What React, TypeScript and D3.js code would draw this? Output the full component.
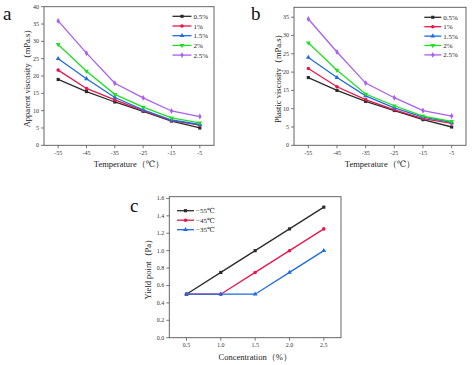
import React from 'react'
import * as d3 from 'd3'

// temperature panels (a, b)
const temperatures = [-55, -45, -35, -25, -15, -5]
const concentrationLabels = ['0.5%', '1%', '1.5%', '2%', '2.5%']

const apparent05 = [19, 15.5, 12.5, 9.8, 7, 5]
const apparent10 = [21.7, 16.4, 13.1, 10, 7.1, 5.8]
const apparent15 = [25, 19.2, 13.8, 10.2, 7.3, 6]
const apparent20 = [29.1, 21.4, 14.7, 11, 7.9, 6.5]
const apparent25 = [35.9, 26.6, 17.9, 13.7, 9.9, 8.3]

const plastic05 = [18.5, 15, 12, 9.5, 7, 5]
const plastic10 = [21, 16, 12.5, 9.7, 7.3, 6]
const plastic15 = [24, 18.5, 13.5, 10.2, 7.7, 6.3]
const plastic20 = [28, 20.5, 14, 10.8, 8, 6.5]
const plastic25 = [34.5, 25.5, 17, 13, 9.5, 8]

// yield point panel (c)
const concentrations = [0.5, 1.0, 1.5, 2.0, 2.5]
const yieldLabels = ['\u221255\u2103', '\u221245\u2103', '\u221235\u2103']
const yield55 = [0.5, 0.75, 1.0, 1.25, 1.5]
const yield45 = [0.5, 0.5, 0.75, 1.0, 1.25]
const yield35 = [0.5, 0.5, 0.5, 0.75, 1.0]

const tempTicks = [-55, -45, -35, -25, -15, -5]
const apparentTicks = [0, 5, 10, 15, 20, 25, 30, 35, 40]
const plasticTicks = [0, 5, 10, 15, 20, 25, 30, 35]
const concTicks = [0.5, 1.0, 1.5, 2.0, 2.5]
const yieldTicks = [0, 0.2, 0.4, 0.6, 0.8, 1.0, 1.2, 1.4, 1.6]

const colors = ['#2b2b2b', '#e8174a', '#1f6be0', '#22dd22', '#a95ff0']
const symbols = [d3.symbolSquare, d3.symbolCircle, d3.symbolTriangle, d3.symbolTriangle, d3.symbolDiamond]
const rotations = [0, 0, 0, 180, 0]

const FONT = '"Liberation Serif", "DejaVu Serif", serif'

type Series = { label: string; xs: number[]; ys: number[] }

type PanelProps = {
  letter: string
  letterX: number
  letterY: number
  xDomain: [number, number]
  xRange: [number, number]
  yDomain: [number, number]
  yRange: [number, number]
  xTicks: number[]
  yTicks: number[]
  xFmt: (v: number) => string
  yFmt: (v: number) => string
  xTitle: string
  yTitle: string
  yTitleX: number
  xTitleY: number
  series: Series[]
  legend: { x: number; y: number; len: number; step: number }
}

function Panel(p: PanelProps) {
  const x = d3.scaleLinear().domain(p.xDomain).range(p.xRange)
  const y = d3.scaleLinear().domain(p.yDomain).range(p.yRange)
  const [x0, x1] = p.xRange
  const [y0, y1] = p.yRange
  const top = Math.min(y0, y1)
  const bottom = Math.max(y0, y1)
  const line = d3.line<[number, number]>().x(d => x(d[0])).y(d => y(d[1]))
  const sym = (i: number) => d3.symbol().type(symbols[i]).size(10)()

  return (
    <g fontFamily={FONT}>
      <text x={p.letterX} y={p.letterY} fontSize={19} fill="#111">{p.letter}</text>
      <rect x={x0} y={top} width={x1 - x0} height={bottom - top} fill="none" stroke="#555" strokeWidth={0.9} />
      {p.xTicks.map(t => (
        <g key={'x' + t}>
          <line x1={x(t)} x2={x(t)} y1={bottom} y2={bottom + 3} stroke="#555" strokeWidth={0.8} />
          <text x={x(t)} y={bottom + 9.5} fontSize={6} textAnchor="middle" fill="#333">{p.xFmt(t)}</text>
        </g>
      ))}
      {p.yTicks.map(t => (
        <g key={'y' + t}>
          <line x1={x0 - 3} x2={x0} y1={y(t)} y2={y(t)} stroke="#555" strokeWidth={0.8} />
          <text x={x0 - 5} y={y(t) + 2} fontSize={6} textAnchor="end" fill="#333">{p.yFmt(t)}</text>
        </g>
      ))}
      <text x={(x0 + x1) / 2} y={p.xTitleY} fontSize={8.5} textAnchor="middle" fill="#222">{p.xTitle}</text>
      <text transform={`translate(${p.yTitleX},${(top + bottom) / 2}) rotate(-90)`} fontSize={8.5} textAnchor="middle" fill="#222">{p.yTitle}</text>
      {p.series.map((s, i) => {
        const pts = s.xs.map((v, j) => [v, s.ys[j]] as [number, number])
        return (
          <g key={s.label}>
            <path d={line(pts) || ''} fill="none" stroke={colors[i]} strokeWidth={1.3} />
            {pts.map((d, j) => (
              <path key={j} d={sym(i) || ''} transform={`translate(${x(d[0])},${y(d[1])}) rotate(${rotations[i]})`} fill={colors[i]} />
            ))}
          </g>
        )
      })}
      {p.series.map((s, i) => {
        const ly = p.legend.y + i * p.legend.step
        return (
          <g key={'lg' + s.label}>
            <line x1={p.legend.x} x2={p.legend.x + p.legend.len} y1={ly} y2={ly} stroke={colors[i]} strokeWidth={1.3} />
            <path d={sym(i) || ''} transform={`translate(${p.legend.x + p.legend.len / 2},${ly}) rotate(${rotations[i]})`} fill={colors[i]} />
            <text x={p.legend.x + p.legend.len + 2} y={ly + 2.5} fontSize={7} fill="#222">{s.label}</text>
          </g>
        )
      })}
    </g>
  )
}

export default function App() {
  const apparent = [apparent05, apparent10, apparent15, apparent20, apparent25]
  const plastic = [plastic05, plastic10, plastic15, plastic20, plastic25]
  const yields = [yield55, yield45, yield35]

  return (
    <svg width={474} height={365} style={{ position: 'absolute', left: 0, top: 0, background: '#fff' }}>
      <Panel
        letter="a" letterX={3} letterY={20}
        xDomain={[-60, 0]} xRange={[44, 214]}
        yDomain={[0, 40]} yRange={[145.3, 6.7]}
        xTicks={tempTicks} yTicks={apparentTicks}
        xFmt={v => String(v)} yFmt={v => String(v)}
        xTitle={'Temperature\uff08\u2103\uff09'} yTitle={'Apparent viscosity\uff08mPa.s\uff09'}
        yTitleX={30} xTitleY={167}
        series={apparent.map((ys, i) => ({ label: concentrationLabels[i], xs: temperatures, ys }))}
        legend={{ x: 172.5, y: 16.3, len: 19, step: 9.7 }}
      />
      <Panel
        letter="b" letterX={251} letterY={20}
        xDomain={[-60, 0]} xRange={[294, 466]}
        yDomain={[0, 37.7]} yRange={[145.3, 7.3]}
        xTicks={tempTicks} yTicks={plasticTicks}
        xFmt={v => String(v)} yFmt={v => String(v)}
        xTitle={'Temperature\uff08\u2103\uff09'} yTitle={'Plastic viscosity\uff08mPa.s\uff09'}
        yTitleX={280.5} xTitleY={167}
        series={plastic.map((ys, i) => ({ label: concentrationLabels[i], xs: temperatures, ys }))}
        legend={{ x: 424.3, y: 17.3, len: 17, step: 9.4 }}
      />
      <Panel
        letter="c" letterX={130} letterY={212}
        xDomain={[0.25, 2.75]} xRange={[169.3, 341]}
        yDomain={[0, 1.62]} yRange={[337.7, 196.7]}
        xTicks={concTicks} yTicks={yieldTicks}
        xFmt={d3.format('.1f')} yFmt={d3.format('.1f')}
        xTitle={'Concentration\uff08%\uff09'} yTitle={'Yield point\uff08Pa\uff09'}
        yTitleX={151} xTitleY={359.5}
        series={yields.map((ys, i) => ({ label: yieldLabels[i], xs: concentrations, ys }))}
        legend={{ x: 177, y: 210.7, len: 17, step: 9.5 }}
      />
    </svg>
  )
}
